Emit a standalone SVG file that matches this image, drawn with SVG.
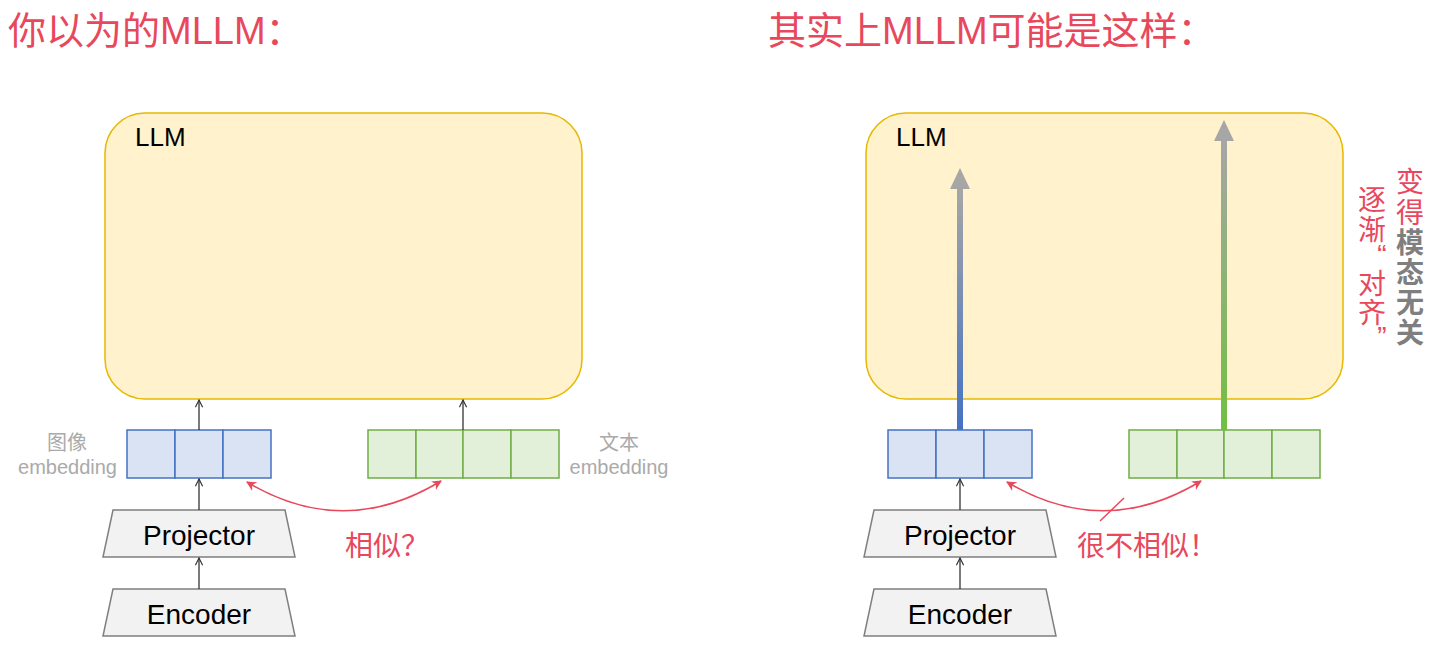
<svg xmlns="http://www.w3.org/2000/svg" width="1440" height="647" viewBox="0 0 1440 647">
<style>
text{font-family:"Liberation Sans","Noto Sans CJK SC",sans-serif}
.t{fill:#e8485c;font-size:38px}
.llm{fill:#fff2cc;stroke:#e6b800;stroke-width:1.5}
.b{fill:#dae3f3;stroke:#4472c4;stroke-width:1.5}
.g{fill:#e2f0d9;stroke:#70ad47;stroke-width:1.5}
.tr{fill:#f2f2f2;stroke:#7f7f7f;stroke-width:1.5}
.lb{font-size:26px;fill:#000}
.pe{font-size:28px;fill:#000}
.gr{font-size:20px;fill:#aaa}
.th{stroke:#333;stroke-width:1.3;fill:none;marker-end:url(#a)}
.red{stroke:#e8485c;stroke-width:1.5;fill:none;marker-start:url(#r);marker-end:url(#r)}
.rt{fill:#e8485c;font-size:28px}
.v{font-size:28px;text-anchor:middle}
</style>
<defs>
<marker id="a" viewBox="0 0 10 10" refX="9" refY="5" markerWidth="9" markerHeight="9" orient="auto" markerUnits="userSpaceOnUse"><path d="M1,1 L9,5 L1,9" fill="none" stroke="#333" stroke-width="1.3"/></marker>
<marker id="r" viewBox="0 0 10 10" refX="9" refY="5" markerWidth="10" markerHeight="10" orient="auto-start-reverse" markerUnits="userSpaceOnUse"><path d="M0,0 L10,5 L0,10 L3,5z" fill="#e8485c"/></marker>
<linearGradient id="gb" x1="0" y1="1" x2="0" y2="0"><stop offset="0" stop-color="#4472c4"/><stop offset="1" stop-color="#a6a6a6"/></linearGradient>
<linearGradient id="gg" x1="0" y1="1" x2="0" y2="0"><stop offset="0" stop-color="#70c040"/><stop offset="1" stop-color="#a6a6a6"/></linearGradient>
</defs>
<text class="t" x="8" y="44">你以为的MLLM：</text>
<text class="t" x="768" y="44">其实上MLLM可能是这样：</text>
<g id="left-llm"><rect class="llm" x="105" y="113" width="477" height="286" rx="40"/><text class="lb" x="135" y="146">LLM</text></g>
<g id="right-llm"><rect class="llm" x="866" y="113" width="477" height="286" rx="40"/><text class="lb" x="896" y="146">LLM</text></g>
<g id="left-img-emb"><rect class="b" x="127" y="430" width="48" height="48"/><rect class="b" x="175" y="430" width="48" height="48"/><rect class="b" x="223" y="430" width="48" height="48"/></g>
<g id="left-txt-emb"><rect class="g" x="368" y="430" width="48" height="48"/><rect class="g" x="416" y="430" width="47" height="48"/><rect class="g" x="463" y="430" width="48" height="48"/><rect class="g" x="511" y="430" width="48" height="48"/></g>
<g id="right-img-emb"><rect class="b" x="888" y="430" width="48" height="48"/><rect class="b" x="936" y="430" width="48" height="48"/><rect class="b" x="984" y="430" width="48" height="48"/></g>
<g id="right-txt-emb"><rect class="g" x="1129" y="430" width="48" height="48"/><rect class="g" x="1177" y="430" width="47" height="48"/><rect class="g" x="1224" y="430" width="48" height="48"/><rect class="g" x="1272" y="430" width="48" height="48"/></g>
<g id="labels"><text class="gr" x="67" y="450" text-anchor="middle">图像</text><text class="gr" x="117" y="474" text-anchor="end">embedding</text><text class="gr" x="619" y="450" text-anchor="middle">文本</text><text class="gr" x="619" y="474" text-anchor="middle">embedding</text></g>
<g id="left-proj"><path class="tr" d="M113,510 H285 L295,557 H103Z"/><text class="pe" x="199" y="545" text-anchor="middle">Projector</text></g>
<g id="left-enc"><path class="tr" d="M113,589 H285 L295,636 H103Z"/><text class="pe" x="199" y="624" text-anchor="middle">Encoder</text></g>
<g id="right-proj"><path class="tr" d="M874,510 H1046 L1056,557 H864Z"/><text class="pe" x="960" y="545" text-anchor="middle">Projector</text></g>
<g id="right-enc"><path class="tr" d="M874,589 H1046 L1056,636 H864Z"/><text class="pe" x="960" y="624" text-anchor="middle">Encoder</text></g>
<g id="connectors">
<line class="th" x1="199" y1="589" x2="199" y2="558"/>
<line class="th" x1="199" y1="510" x2="199" y2="479"/>
<line class="th" x1="199" y1="430" x2="199" y2="400"/>
<line class="th" x1="463" y1="430" x2="463" y2="400"/>
<line class="th" x1="960" y1="589" x2="960" y2="558"/>
<line class="th" x1="960" y1="510" x2="960" y2="479"/>
<path class="red" d="M247,482 Q344,540 441,481"/>
<path class="red" d="M1007,482 Q1104,540 1201,481"/>
<line x1="1100" y1="521" x2="1124" y2="498" stroke="#e8485c" stroke-width="1.5"/>
<rect x="957" y="188" width="6" height="242" fill="url(#gb)"/>
<path d="M950,189 L960,168 L970,189Z" fill="#a6a6a6"/>
<rect x="1221" y="140" width="6" height="290" fill="url(#gg)"/>
<path d="M1214,141 L1224,120 L1234,141Z" fill="#a6a6a6"/>
</g>
<text class="rt" x="345" y="556">相似？</text>
<text class="rt" x="1077" y="556">很不相似！</text>
<g id="vertical-text">
<text class="v" x="1410" y="192" fill="#e8485c">变</text>
<text class="v" x="1410" y="223" fill="#e8485c">得</text>
<text class="v" x="1410" y="253" fill="#7f7f7f" font-weight="bold">模</text>
<text class="v" x="1410" y="283" fill="#7f7f7f" font-weight="bold">态</text>
<text class="v" x="1410" y="313" fill="#7f7f7f" font-weight="bold">无</text>
<text class="v" x="1410" y="343" fill="#7f7f7f" font-weight="bold">关</text>
<text class="v" x="1372" y="210" fill="#e8485c">逐</text>
<text class="v" x="1372" y="240" fill="#e8485c">渐</text>
<text class="v" x="1382" y="264" fill="#e8485c" font-size="14">“</text>
<text class="v" x="1372" y="294" fill="#e8485c">对</text>
<text class="v" x="1372" y="323" fill="#e8485c">齐</text>
<text class="v" x="1382" y="346" fill="#e8485c" font-size="14">”</text>
</g>
</svg>
